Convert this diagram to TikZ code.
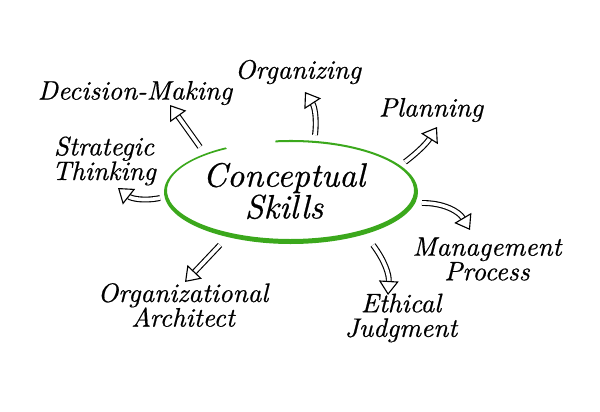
\documentclass[tikz,border=0pt]{standalone}
\usepackage{fontspec}
\usepackage{tikz}
\usetikzlibrary{arrows.meta,calc}
\newfontface\handfont{lmroman10-italic.otf}[FakeBold=0.6]
\definecolor{skillgreen}{rgb}{0.23,0.66,0.11}

\begin{document}
\begin{tikzpicture}
  [x=0.025cm,y=-0.025cm,
   every node/.style={font=\handfont\fontsize{19}{17.5}\selectfont,align=center,inner sep=0pt},
   hollow/.style={double=white,double distance=2.6pt,line width=0.8pt,
     -{Triangle[open,fill=white,length=10pt,width=14pt]}}]

  \useasboundingbox (0,0) rectangle (600,412);

  % the green ring, open at the top
  \fill[skillgreen] ($(291,192)+(-97:127 and 52)$)
    arc[start angle=-97,end angle=239,x radius=127,y radius=52]
    -- ($(290.5,190.5)+(239:123.5 and 48.5)$)
    arc[start angle=239,end angle=-97,x radius=123.5,y radius=48.5] -- cycle;

  \node[font=\handfont\fontsize{24}{21}\selectfont] (cs) at (284,191) {Conceptual\\Skills};

  \node (dm) at (135,93)  {Decision-Making};
  \node (or) at (298,72)  {Organizing};
  \node (pl) at (431,110) {Planning};
  \node (st) at (104,161) {Strategic\\Thinking};
  \node (mp) at (487,259) {Management\\Process};
  \node (et) at (401,318) {Ethical\\Judgment};
  \node (oa) at (183,305) {Organizational\\Architect};

  % arrow ends
  \coordinate (dm1) at (200,147); \coordinate (dm2) at (170,105);
  \coordinate (or1) at (315,135); \coordinate (or2) at (305,92);
  \coordinate (pl1) at (405,162); \coordinate (pl2) at (437,127);
  \coordinate (st1) at (160,198); \coordinate (st2) at (118,188);
  \coordinate (mp1) at (422,203); \coordinate (mp2) at (470,230);
  \coordinate (et1) at (373,245); \coordinate (et2) at (388,295);
  \coordinate (oa1) at (220,245); \coordinate (oa2) at (185,282);

  \foreach \from/\to/\bend in {dm1/dm2/0,or1/or2/-20,pl1/pl2/-10,st1/st2/25,mp1/mp2/30,et1/et2/20,oa1/oa2/0}
    \draw[hollow] (\from) to[bend left=\bend] (\to);
\end{tikzpicture}
\end{document}
